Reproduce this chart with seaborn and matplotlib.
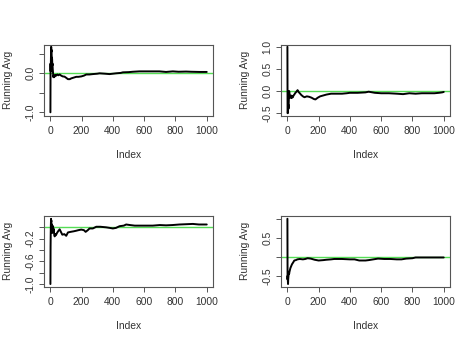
import matplotlib
matplotlib.use("Agg")
import matplotlib.pyplot as plt
import seaborn as sns
import pandas as pd

# ---- data ----
idx1 = [1, 2, 3, 4, 5, 6, 7, 8, 9, 10, 11, 12, 13, 14, 16, 18, 20, 22, 25, 28, 32, 38, 45, 52, 60, 70, 80, 91,
        100, 113, 125, 134, 150, 166, 180, 198, 215, 230, 250, 272, 300, 315, 350, 379, 400, 421, 450, 464,
        500, 528, 570, 620, 650, 698, 740, 783, 820, 868, 900, 953, 1000]
avg1 = [-1.0, 0.25, 0.05, 0.3, 0.55, 0.68, 0.55, 0.6, 0.45, 0.3, 0.4, 0.35, 0.2, 0.25, 0.1, 0.0, -0.1, -0.05,
        -0.1, -0.08, -0.04, -0.06, -0.03, -0.05, -0.03, -0.06, -0.08, -0.085, -0.11, -0.15, -0.15, -0.13, -0.11,
        -0.09, -0.09, -0.08, -0.06, -0.03, -0.03, -0.02, -0.01, 0.0, -0.01, -0.02, -0.01, 0.0, 0.01, 0.025,
        0.03, 0.04, 0.05, 0.05, 0.05, 0.05, 0.035, 0.05, 0.04, 0.045, 0.04, 0.035, 0.035]

idx2 = [1, 2, 4, 6, 8, 10, 12, 14, 16, 20, 24, 28, 32, 36, 40, 45, 50, 55, 62, 66, 72, 80, 90, 100, 110,
        125, 140, 155, 170, 180, 195, 210, 230, 250, 280, 300, 350, 380, 400, 450, 500, 520, 560, 600, 650,
        700, 740, 780, 820, 860, 900, 940, 970, 990, 1000]
avg2 = [1.0, -0.5, -0.5, -0.3, -0.4, -0.2, 0.0, -0.05, -0.12, -0.15, -0.1, -0.16, -0.12, -0.14, -0.1, -0.08,
        -0.05, -0.03, 0.0, 0.02, -0.02, -0.05, -0.09, -0.12, -0.14, -0.12, -0.13, -0.15, -0.18, -0.19, -0.15,
        -0.12, -0.1, -0.08, -0.06, -0.06, -0.06, -0.05, -0.04, -0.04, -0.03, -0.015, -0.04, -0.05, -0.05,
        -0.06, -0.07, -0.05, -0.06, -0.05, -0.05, -0.05, -0.04, -0.03, -0.02]

idx3 = [1, 2, 3, 4, 5, 6, 7, 8, 10, 12, 14, 16, 18, 20, 22, 25, 28, 32, 36, 43, 50, 60, 68, 77, 90, 102,
        113, 130, 150, 166, 180, 198, 215, 226, 240, 251, 272, 294, 320, 357, 380, 400, 420, 443, 470, 485,
        510, 540, 570, 610, 655, 700, 740, 780, 826, 870, 911, 950, 1000]
avg3 = [-1.0, -0.35, -0.1, 0.05, 0.15, 0.1, 0.12, 0.0, 0.05, -0.1, 0.0, -0.05, 0.02, -0.08, -0.03, -0.12,
        -0.16, -0.12, -0.14, -0.1, -0.07, -0.035, -0.08, -0.13, -0.12, -0.15, -0.09, -0.08, -0.07, -0.06,
        -0.05, -0.04, -0.05, -0.08, -0.05, -0.02, -0.02, 0.01, 0.01, 0.0, -0.01, -0.02, -0.01, 0.02, 0.03,
        0.05, 0.04, 0.03, 0.03, 0.03, 0.03, 0.04, 0.035, 0.04, 0.05, 0.055, 0.06, 0.05, 0.05]

idx4 = [1, 2, 3, 4, 5, 6, 8, 10, 12, 14, 17, 20, 25, 30, 38, 45, 55, 65, 80, 100, 115, 130, 150, 175, 200,
        230, 250, 280, 300, 350, 400, 430, 460, 500, 520, 550, 580, 620, 660, 700, 730, 760, 800, 820, 860,
        900, 950, 1000]
avg4 = [1.0, -0.6, -0.5, -0.65, -0.72, -0.6, -0.5, -0.4, -0.45, -0.4, -0.35, -0.3, -0.25, -0.2, -0.15, -0.1,
        -0.09, -0.07, -0.06, -0.07, -0.06, -0.04, -0.05, -0.08, -0.1, -0.09, -0.08, -0.07, -0.06, -0.06,
        -0.07, -0.07, -0.1, -0.1, -0.09, -0.07, -0.05, -0.06, -0.06, -0.07, -0.07, -0.05, -0.04, -0.02,
        -0.02, -0.02, -0.02, -0.02]

x_ticks = [0, 200, 400, 600, 800, 1000]
y_ticks1 = [-1.0, -0.5, 0.0, 0.5]
y_labels1 = ["-1.0", "", "0.0", ""]
y_ticks2 = [-0.5, 0.0, 0.5, 1.0]
y_labels2 = ["-0.5", "0.0", "0.5", "1.0"]
y_ticks3 = [-1.0, -0.8, -0.6, -0.4, -0.2, 0.0]
y_labels3 = ["-1.0", "", "-0.6", "", "-0.2", ""]
y_ticks4 = [-0.5, 0.0, 0.5, 1.0]
y_labels4 = ["-0.5", "", "0.5", ""]

sns.set_style("white")
plt.rcParams['font.family'] = ['Liberation Sans', 'DejaVu Sans']

W, H = 474, 343
fig = plt.figure(figsize=(W / 100, H / 100), dpi=100)

panels = [
    (idx1, avg1, y_ticks1, y_labels1, (-1.087, 0.726), (44, 45, 213, 115.7)),
    (idx2, avg2, y_ticks2, y_labels2, (-0.557, 1.04), (281, 45, 450, 115.7)),
    (idx3, avg3, y_ticks3, y_labels3, (-1.047, 0.205), (44, 215.7, 213, 286.7)),
    (idx4, avg4, y_ticks4, y_labels4, (-0.79, 1.08), (281, 215.7, 450, 286.7)),
]

txt = "#333333"
edge = "#555555"
fs = 7.4

for ix, av, yt, yl, ylim, (l, t, r, b) in panels:
    ax = fig.add_axes([l / W, 1 - b / H, (r - l) / W, (b - t) / H])
    df = pd.DataFrame({"Index": ix, "Running Avg": av})
    ax.axhline(0, color="#55dd55", lw=1.0, zorder=1)
    sns.lineplot(data=df, x="Index", y="Running Avg", ax=ax, color="black", lw=1.4, zorder=2)
    ax.set_xlim(-40, 1040)
    ax.set_ylim(*ylim)
    ax.set_xticks(x_ticks)
    ax.set_xticklabels([str(v) for v in x_ticks], fontsize=fs, color=txt)
    ax.set_yticks(yt)
    ax.set_yticklabels(yl, fontsize=fs, color=txt, rotation=90, va="center")
    ax.tick_params(axis="both", direction="out", length=3.6, width=0.7, color=edge, left=True, bottom=True)
    ax.tick_params(axis="x", pad=4.0)
    ax.tick_params(axis="y", pad=2.5)
    for s in ax.spines.values():
        s.set_color(edge)
        s.set_linewidth(0.8)
    ax.set_xlabel("Index", fontsize=fs, color=txt)
    ax.set_ylabel("Running Avg", fontsize=fs, color=txt)
    ax.xaxis.set_label_coords(0.5, -34.5 / (b - t))
    ax.yaxis.set_label_coords((12.5 - l % 237) / (r - l), 0.5)
    ax.grid(False)

fig.savefig("out.png", dpi=100, facecolor="white")
